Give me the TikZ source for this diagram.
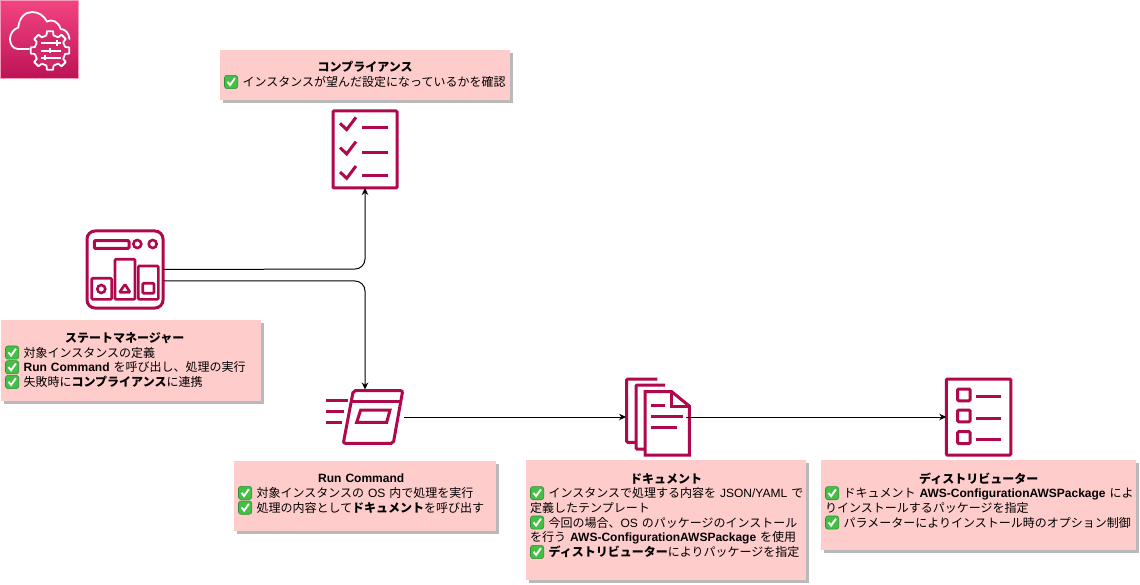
\documentclass[tikz,border=0pt]{standalone}
\usepackage{fontspec}
\setmainfont{Noto Sans CJK JP}
\newfontfamily\latfont{Liberation Sans}
\usetikzlibrary{arrows.meta, shadows}

\definecolor{awspink}{HTML}{B0084D}
\definecolor{boxpink}{HTML}{FFCCCC}
\definecolor{okgreen}{HTML}{43C043}
\definecolor{okdark}{HTML}{2F8F3A}
\definecolor{apptop}{HTML}{F34482}
\definecolor{appbottom}{HTML}{BC1356}
\definecolor{appedge}{HTML}{F59AB9}

\newcommand{\lat}[1]{{\latfont #1}}
\newcommand{\ttl}[2]{\makebox[#1pt]{\bfseries #2}}
\newcommand{\okmark}{\tikz[x=1pt,y=1pt,baseline=2.4pt]{\fill[okgreen,draw=okdark,line width=.6pt,rounded corners=2.5pt] (.4,.4) rectangle (13.6,13.6); \draw[white,line width=1.9pt] (3.4,7.2) -- (6,4) -- (10.8,10.8);}\hspace{4.6pt}}

\tikzset{
	infobox/.style={fill=boxpink, anchor=north west, inner xsep=4pt, inner ysep=0pt, align=left, font=\fontsize{12}{14.7}\selectfont, drop shadow={shadow xshift=2.5pt, shadow yshift=-2.5pt, fill=black!55, opacity=.5}},
	iconbox/.style={inner sep=0pt, outer sep=0pt},
	iconline/.style={draw=awspink, line width=3pt, rounded corners=1pt},
	appline/.style={draw=white, line width=1.8pt},
	flow/.style={line width=1pt, -{Stealth[length=7pt, width=6.5pt]}, rounded corners=10pt},
}

\begin{document}
\begin{tikzpicture}[x=1pt, y=-1pt]
	\useasboundingbox (0,0) rectangle (1140,585);

	\node[iconbox, minimum size=78pt, top color=apptop, bottom color=appbottom, draw=appedge, line width=.8pt] (cloudapp) at (39.5,39.5) {};
	\draw[appline, line cap=round] (29,49) -- (18,49) .. controls (13,49) and (10,44) .. (10,39) .. controls (10,33) and (14,29) .. (18.3,27.5) .. controls (19,18) and (25,12) .. (32,12) .. controls (39,12) and (44,16) .. (47,21.5) .. controls (52,19) and (58,21) .. (60.7,29) .. controls (65,29) and (69,33) .. (69.5,39);
	\begin{scope}[shift={(50,50.5)}]
		\fill[appbottom!60!apptop] (0,0) circle (16);
		\foreach \a in {0,45,...,315}
			\draw[appline, line join=round] (\a-13:15.5) -- (\a-9:19.5) -- (\a+9:19.5) -- (\a+13:15.5) arc[start angle=\a+13, end angle=\a+32, radius=15.5];
	\end{scope}
	\foreach \y/\k in {43.3/56.7, 50.7/50, 57.7/45} {
		\draw[appline] (40.7,\y) -- (61,\y);
		\draw[appline, line width=2.2pt] (\k,\y-2.8) -- (\k,\y+2.8);
	}

	\node[infobox, text width=282pt, minimum height=50pt] (compltext) at (220,50) {\ttl{282}{コンプライアンス}\\\okmark インスタンスが望んだ設定になっているかを確認};
	\node[infobox, text width=252pt, minimum height=81pt] (statetext) at (1,320) {\ttl{239}{ステートマネージャー}\\\okmark 対象インスタンスの定義\\\okmark \textbf{\lat{Run Command}} を呼び出し、処理の実行\\\okmark 失敗時に\textbf{コンプライアンス}に連携};
	\node[infobox, text width=254pt, minimum height=70pt] (runtext) at (234,461) {\ttl{246}{\lat{Run Command}}\\\okmark 対象インスタンスの \lat{OS} 内で処理を実行\\\okmark 処理の内容として\textbf{ドキュメント}を呼び出す\\[-8.7pt]\mbox{}};
	\node[infobox, text width=272pt, minimum height=120pt] (doctext) at (526,460) {\ttl{272}{ドキュメント}\\\mbox{\okmark インスタンスで処理する内容を \lat{JSON/YAML} で}\\定義したテンプレート\\\okmark 今回の場合、\lat{OS} のパッケージのインストール\\を行う \textbf{\lat{AWS-ConfigurationAWSPackage}} を使用\\\okmark \textbf{ディストリビューター}によりパッケージを指定\\[-4pt]\mbox{}};
	\node[infobox, text width=307pt, minimum height=90pt] (disttext) at (821,460) {\ttl{307}{ディストリビューター}\\\mbox{\okmark ドキュメント \textbf{\lat{AWS-ConfigurationAWSPackage}} によ}\\りインストールするパッケージを指定\\\okmark パラメーターによりインストール時のオプション制御\\[-4pt]\mbox{}};

	\node[iconbox, iconline, minimum width=64pt, minimum height=77pt] (compl) at (365,149.5) {};
	\foreach \y/\l in {123.3/127.7, 147.6/152.3, 172/175.3} {
		\draw[awspink, line width=3pt] (340,\y) -- (346.7,\y+6.3) -- (356,\y-6);
		\draw[awspink, line width=3pt] (362.3,\l) -- (388.3,\l);
	}

	\node[iconbox, iconline, rounded corners=8pt, minimum width=76pt, minimum height=77pt] (state) at (125,269.5) {};
	\draw[iconline] (94.3,240.7) rectangle (129,248.3);
	\draw[awspink, line width=2.6pt] (137.3,244) circle (4) (152.7,244) circle (4);
	\draw[iconline, line width=2.6pt] (91.7,278.3) rectangle (111.7,299.3);
	\draw[iconline, line width=2.6pt] (115,259.3) rectangle (135,299.3);
	\draw[iconline, line width=2.6pt] (138.3,266) rectangle (158.3,299.3);
	\draw[awspink, line width=2.6pt] (101.3,289) circle (4);
	\draw[iconline, line width=2.6pt] (119.5,292.3) -- (125,284.3) -- (130,292.3) -- cycle;
	\draw[iconline, line width=2.6pt] (142.7,283.3) rectangle (154,293.3);
	\coordinate (stateout) at (164,281);

	\node[iconbox, minimum width=78pt, minimum height=55pt] (run) at (365,417) {};
	\draw[iconline, rounded corners=2pt] (353.3,390.7) -- (402.7,390.7) -- (393.3,443.3) -- (343.3,443.3) -- cycle;
	\draw[awspink, line width=3pt] (351,401.7) -- (400.7,401.7);
	\draw[iconline, rounded corners=0pt] (360.7,410) -- (390,410) -- (386.7,422.3) -- (356.7,422.3) -- cycle;
	\foreach \y/\l in {400.7/348, 411.7/344.3, 422.3/341.7}
		\draw[awspink, line width=3pt] (326,\y) -- (\l,\y);

	\node[iconbox, minimum width=60pt, minimum height=78pt] (doc) at (656,417) {};
	\draw[iconline, rounded corners=0pt] (645,391.7) -- (671.7,391.7) -- (689.3,406) -- (689.3,455) -- (645,455) -- cycle;
	\draw[iconline, rounded corners=0pt] (671.7,391.7) -- (671.7,406) -- (689.3,406);
	\draw[iconline] (665,385) -- (636,385) -- (636,449) -- (644,449);
	\draw[iconline] (657.3,379) -- (626.7,379) -- (626.7,442.3) -- (635,442.3);
	\foreach \y/\l in {405.7/665, 416.7/683.3, 427.7/677.3}
		\draw[awspink, line width=3pt] (651,\y) -- (\l,\y);

	\node[iconbox, iconline, minimum width=64.5pt, minimum height=76pt] (dist) at (978.5,417) {};
	\foreach \y/\l in {389/396.7, 410/418.3, 431.7/439.3} {
		\draw[iconline] (957.7,\y) rectangle (970,\y+11.8);
		\draw[awspink, line width=3pt] (975.7,\l) -- (1001,\l);
	}

	\draw[flow] (state.east) -- (365,269) -- (compl.south);
	\draw[flow] (stateout) -- (365,281) -- (run.north);
	\draw[flow] (run.east) -- (doc.west);
	\draw[flow] (doc.east) -- (dist.west);
\end{tikzpicture}
\end{document}
